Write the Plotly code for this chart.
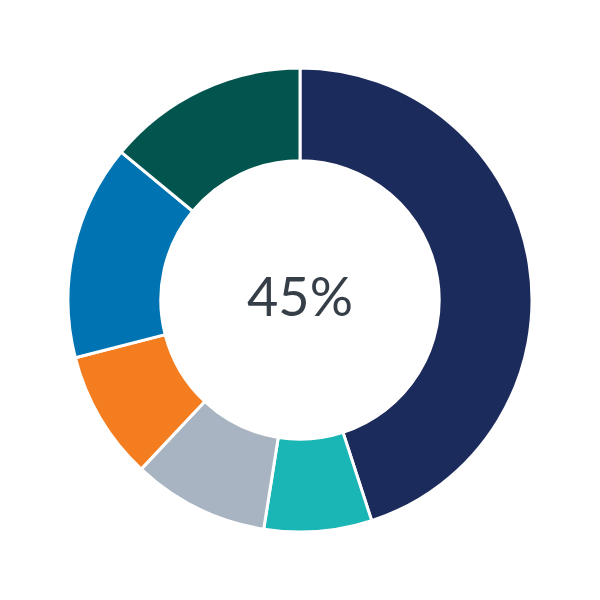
import plotly.graph_objects as go

labels = ["Navy", "Teal", "Gray", "Orange", "Blue", "Green"]
values = [45, 7.5, 9.5, 9, 15, 14]
colors = ["#1b2b5b", "#1ab5b5", "#a9b4c2", "#f47d20", "#0074b3", "#02554f"]
center_label = "45%"

fig = go.Figure(
    go.Pie(
        labels=labels,
        values=values,
        hole=0.6,
        sort=False,
        direction="clockwise",
        rotation=0,
        marker=dict(colors=colors, line=dict(color="#ffffff", width=3)),
        textinfo="none",
        hoverinfo="label+percent",
    )
)
fig.add_annotation(
    text=center_label,
    x=0.5, y=0.5, xref="paper", yref="paper",
    yshift=5,
    showarrow=False,
    font=dict(family="Lato", size=54, color="#363e48"),
)
fig.update_layout(
    width=600, height=600,
    margin=dict(l=60, r=76, t=60, b=76),
    showlegend=False,
    paper_bgcolor="#ffffff",
    plot_bgcolor="#ffffff",
)
fig.write_html("out.html")
